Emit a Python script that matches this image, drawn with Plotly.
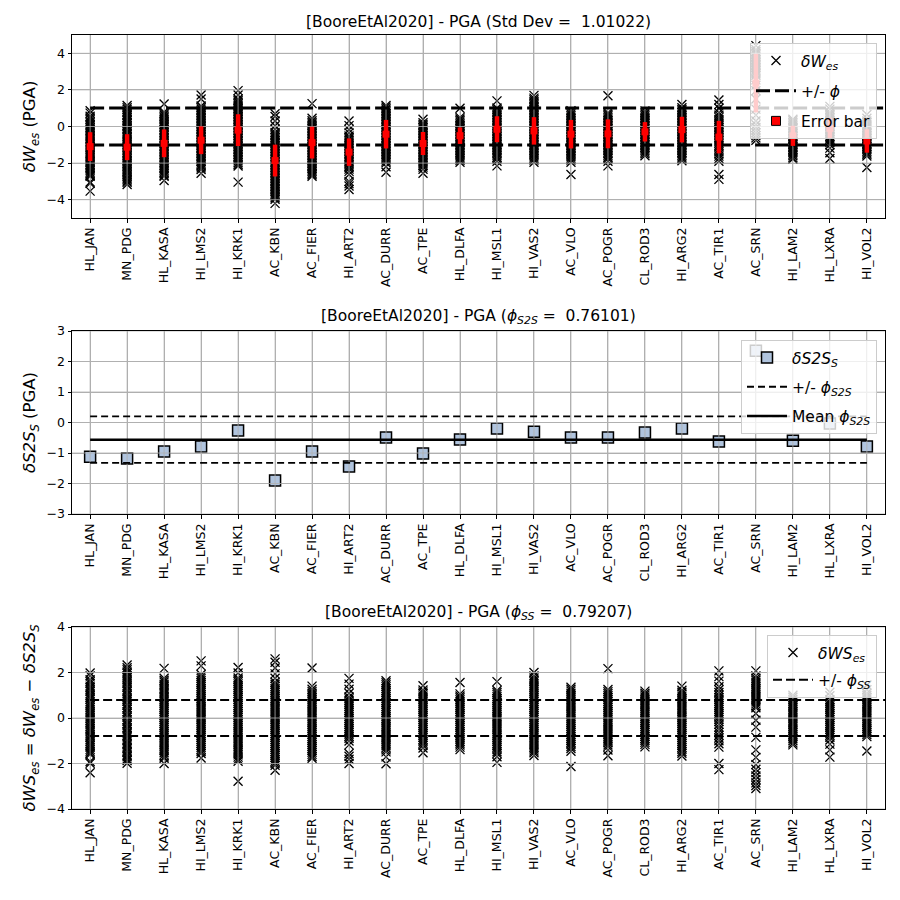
import numpy as np
import plotly.graph_objects as go

# ---------------- data ----------------
STATIONS = ["HL_JAN", "MN_PDG", "HL_KASA", "HI_LMS2", "HI_KRK1", "AC_KBN", "AC_FIER",
            "HI_ART2", "AC_DURR", "AC_TPE", "HL_DLFA", "HI_MSL1", "HI_VAS2", "AC_VLO",
            "AC_POGR", "CL_ROD3", "HI_ARG2", "AC_TIR1", "AC_SRN", "HI_LAM2", "HL_LXRA", "HI_VOL2"]

# within-event residuals dW_es per station (top panel)
DW_HL_JAN = [0.86, 0.73, 0.56, 0.47, 0.39, 0.28, 0.21, 0.11, 0.04, -0.06, -0.14, -0.23, -0.30, -0.41,
             -0.49, -0.57, -0.66, -0.74, -0.83, -0.90, -0.99, -1.08, -1.15, -1.24, -1.33, -1.40, -1.49,
             -1.58, -1.66, -1.73, -1.83, -1.91, -1.98, -2.08, -2.16, -2.25, -2.33, -2.41, -2.50, -2.58,
             -2.66, -2.72, -3.03, -3.11, -3.53]
DW_MN_PDG = [1.15, 1.03, 0.94, 0.84, 0.77, 0.66, 0.59, 0.49, 0.40, 0.33, 0.23, 0.16, 0.05, -0.02, -0.12,
             -0.19, -0.30, -0.38, -0.45, -0.56, -0.62, -0.73, -0.80, -0.90, -0.97, -1.08, -1.14, -1.25,
             -1.32, -1.42, -1.49, -1.60, -1.66, -1.77, -1.84, -1.94, -2.01, -2.12, -2.18, -2.29, -2.36,
             -2.46, -2.53, -2.64, -2.70, -2.81, -2.88, -2.98, -3.05, -3.17]
DW_HL_KASA = [1.23, 0.80, 0.71, 0.63, 0.53, 0.46, 0.36, 0.28, 0.19, 0.11, 0.01, -0.06, -0.16, -0.24,
              -0.33, -0.41, -0.50, -0.59, -0.67, -0.76, -0.85, -0.93, -1.02, -1.10, -1.19, -1.28, -1.36,
              -1.45, -1.53, -1.62, -1.71, -1.79, -1.88, -1.96, -2.05, -2.14, -2.22, -2.31, -2.39, -2.48,
              -2.57, -2.66, -2.72, -2.95]
DW_HI_LMS2 = [1.72, 1.50, 1.12, 1.03, 0.95, 0.86, 0.77, 0.69, 0.60, 0.51, 0.43, 0.34, 0.25, 0.17, 0.08,
              -0.01, -0.09, -0.18, -0.27, -0.35, -0.44, -0.53, -0.61, -0.70, -0.79, -0.87, -0.96, -1.05,
              -1.13, -1.22, -1.31, -1.39, -1.48, -1.57, -1.65, -1.74, -1.83, -1.91, -2.00, -2.09, -2.17,
              -2.26, -2.35, -2.55]
DW_HI_KRK1 = [1.96, 1.72, 1.50, 1.42, 1.33, 1.24, 1.16, 1.07, 0.98, 0.90, 0.81, 0.72, 0.64, 0.55, 0.46,
              0.38, 0.29, 0.20, 0.12, 0.03, -0.06, -0.14, -0.23, -0.32, -0.40, -0.49, -0.58, -0.66, -0.75,
              -0.84, -0.92, -1.01, -1.10, -1.18, -1.27, -1.36, -1.44, -1.53, -1.62, -1.70, -1.79, -1.88,
              -1.98, -2.08, -2.16, -3.04]
DW_AC_KBN = [0.70, 0.55, 0.30, 0.04, -0.15, -0.33, -0.42, -0.51, -0.60, -0.68, -0.77, -0.86, -0.94,
             -1.03, -1.12, -1.20, -1.29, -1.38, -1.46, -1.55, -1.64, -1.72, -1.81, -1.90, -1.98, -2.07,
             -2.16, -2.24, -2.33, -2.42, -2.50, -2.59, -2.68, -2.76, -2.85, -2.94, -3.02, -3.11, -3.20,
             -3.28, -3.37, -3.46, -3.54, -3.63, -3.72, -3.80, -3.89, -3.98, -4.20]
DW_AC_FIER = [1.25, 0.45, 0.31, 0.22, 0.14, 0.05, -0.04, -0.12, -0.21, -0.30, -0.38, -0.47, -0.56, -0.64,
              -0.73, -0.82, -0.90, -0.99, -1.08, -1.16, -1.25, -1.34, -1.42, -1.51, -1.60, -1.68, -1.77,
              -1.86, -1.94, -2.03, -2.12, -2.20, -2.29, -2.38, -2.46, -2.55, -2.64, -2.72]
DW_HI_ART2 = [0.30, 0.05, -0.18, -0.35, -0.52, -0.60, -0.68, -0.77, -0.86, -0.94, -1.03, -1.12, -1.20,
              -1.29, -1.38, -1.46, -1.55, -1.64, -1.72, -1.81, -1.90, -1.98, -2.07, -2.16, -2.24, -2.33,
              -2.45, -2.62, -3.00, -3.12, -3.25, -3.44]
DW_AC_DURR = [1.15, 1.06, 0.97, 0.89, 0.80, 0.71, 0.63, 0.54, 0.45, 0.37, 0.28, 0.19, 0.11, 0.02, -0.07,
              -0.15, -0.24, -0.33, -0.41, -0.50, -0.59, -0.67, -0.76, -0.85, -0.93, -1.02, -1.11, -1.19,
              -1.28, -1.37, -1.45, -1.54, -1.63, -1.71, -1.80, -1.89, -1.98, -2.20, -2.50]
DW_AC_TPE = [0.40, 0.21, 0.12, 0.04, -0.05, -0.14, -0.22, -0.31, -0.40, -0.48, -0.57, -0.66, -0.74,
             -0.83, -0.92, -1.00, -1.09, -1.18, -1.26, -1.35, -1.44, -1.52, -1.61, -1.70, -1.78, -1.87,
             -1.96, -2.04, -2.13, -2.22, -2.34, -2.55]
DW_HL_DLFA = [1.00, 0.50, 0.41, 0.33, 0.24, 0.15, 0.07, -0.02, -0.11, -0.19, -0.28, -0.37, -0.45, -0.54,
              -0.63, -0.71, -0.80, -0.89, -0.97, -1.06, -1.15, -1.23, -1.32, -1.41, -1.49, -1.58, -1.67,
              -1.75, -1.84, -1.95]
DW_HI_MSL1 = [1.40, 1.01, 0.92, 0.84, 0.75, 0.66, 0.58, 0.49, 0.40, 0.32, 0.23, 0.14, 0.06, -0.03, -0.12,
              -0.20, -0.29, -0.38, -0.46, -0.55, -0.64, -0.72, -0.81, -0.90, -0.98, -1.07, -1.16, -1.24,
              -1.33, -1.42, -1.50, -1.59, -1.68, -1.76, -1.90, -2.15]
DW_HI_VAS2 = [1.70, 1.55, 1.46, 1.37, 1.29, 1.20, 1.11, 1.03, 0.94, 0.85, 0.77, 0.68, 0.59, 0.51, 0.42,
              0.33, 0.25, 0.16, 0.07, -0.01, -0.10, -0.19, -0.27, -0.36, -0.45, -0.53, -0.62, -0.71, -0.79,
              -0.88, -0.97, -1.05, -1.14, -1.23, -1.31, -1.40, -1.49, -1.57, -1.66, -1.75, -1.83, -1.95]
DW_AC_VLO = [0.86, 0.77, 0.69, 0.60, 0.51, 0.43, 0.34, 0.25, 0.17, 0.08, -0.01, -0.09, -0.18, -0.27,
             -0.35, -0.44, -0.53, -0.61, -0.70, -0.79, -0.87, -0.96, -1.05, -1.13, -1.22, -1.31, -1.39,
             -1.48, -1.57, -1.65, -1.74, -1.83, -1.95, -2.62]
DW_AC_POGR = [1.68, 0.76, 0.67, 0.59, 0.50, 0.41, 0.33, 0.24, 0.15, 0.07, -0.02, -0.11, -0.19, -0.28,
              -0.37, -0.45, -0.54, -0.63, -0.71, -0.80, -0.89, -0.97, -1.06, -1.15, -1.23, -1.32, -1.41,
              -1.49, -1.58, -1.67, -1.75, -1.90, -2.15]
DW_CL_ROD3 = [0.85, 0.76, 0.68, 0.59, 0.50, 0.42, 0.33, 0.24, 0.16, 0.07, -0.02, -0.10, -0.19, -0.28,
              -0.36, -0.45, -0.54, -0.62, -0.71, -0.80, -0.88, -0.97, -1.06, -1.14, -1.23, -1.32, -1.40,
              -1.49, -1.60]
DW_HI_ARG2 = [1.20, 1.02, 0.93, 0.85, 0.76, 0.67, 0.59, 0.50, 0.41, 0.33, 0.24, 0.15, 0.07, -0.02, -0.11,
              -0.19, -0.28, -0.37, -0.45, -0.54, -0.63, -0.71, -0.80, -0.89, -0.97, -1.06, -1.15, -1.23,
              -1.32, -1.41, -1.49, -1.58, -1.67, -1.75, -1.87]
DW_AC_TIR1 = [1.45, 1.20, 1.00, 0.75, 0.62, 0.50, 0.38, 0.28, 0.19, 0.11, 0.02, -0.07, -0.15, -0.24,
              -0.33, -0.41, -0.50, -0.59, -0.68, -0.78, -0.90, -1.02, -1.12, -1.25, -1.38, -1.50, -1.62,
              -1.75, -1.90, -2.62, -2.89]
DW_AC_SRN = [4.42, 4.20, 4.10, 4.01, 3.92, 3.84, 3.75, 3.66, 3.58, 3.49, 3.40, 3.32, 3.23, 3.14, 3.06,
             2.97, 2.88, 2.80, 2.55, 2.25, 1.95, 1.50, 0.95, 0.62, 0.30, 0.10, -0.05, -0.20, -0.35, -0.50,
             -0.62, -0.75]
DW_HI_LAM2 = [0.40, 0.31, 0.22, 0.14, 0.05, -0.04, -0.12, -0.21, -0.30, -0.38, -0.47, -0.56, -0.64, -0.73,
              -0.82, -0.90, -0.99, -1.08, -1.16, -1.25, -1.34, -1.42, -1.51, -1.60, -1.70, -1.78]
DW_HL_LXRA = [1.10, 0.95, 0.77, 0.68, 0.60, 0.51, 0.42, 0.34, 0.25, 0.16, 0.08, -0.01, -0.10, -0.18,
              -0.27, -0.36, -0.44, -0.53, -0.62, -0.70, -0.79, -0.88, -1.00, -1.18, -1.43, -1.75]
DW_HI_VOL2 = [0.66, 0.45, 0.30, 0.21, 0.12, 0.04, -0.05, -0.14, -0.22, -0.31, -0.40, -0.48, -0.57, -0.66,
              -0.74, -0.83, -0.92, -1.00, -1.09, -1.18, -1.26, -1.35, -1.44, -1.52, -1.61, -2.24]

DW_ALL = [DW_HL_JAN, DW_MN_PDG, DW_HL_KASA, DW_HI_LMS2, DW_HI_KRK1, DW_AC_KBN, DW_AC_FIER, DW_HI_ART2,
          DW_AC_DURR, DW_AC_TPE, DW_HL_DLFA, DW_HI_MSL1, DW_HI_VAS2, DW_AC_VLO, DW_AC_POGR, DW_CL_ROD3,
          DW_HI_ARG2, DW_AC_TIR1, DW_AC_SRN, DW_HI_LAM2, DW_HL_LXRA, DW_HI_VOL2]

# error bar (mean +/- std) per station, top panel
ERR_MEAN = [-1.10, -1.13, -0.92, -0.75, -0.20, -1.86, -0.88, -1.40, -0.42, -0.93, -0.50,
            -0.15, -0.24, -0.42, -0.40, -0.29, -0.17, -0.58, 2.37, -0.51, -0.10, -0.79]
ERR_STD = [0.79, 0.71, 0.76, 0.76, 0.87, 0.87, 0.87, 0.75, 0.78, 0.63, 0.45,
           0.71, 0.75, 0.78, 0.79, 0.53, 0.70, 0.89, 1.60, 0.55, 0.58, 0.64]

# site terms dS2S_s (middle panel)
S2S = [-1.12, -1.18, -0.95, -0.79, -0.26, -1.90, -0.95, -1.44, -0.49, -1.02, -0.56,
       -0.20, -0.30, -0.49, -0.49, -0.33, -0.20, -0.62, 2.35, -0.60, -0.03, -0.79]

PHI = 1.01022
PHI_S2S = 0.76101
PHI_SS = 0.79207

Y_TICKS_TOP = [-4, -2, 0, 2, 4]
Y_TICKS_MID = [-3, -2, -1, 0, 1, 2, 3]
Y_TICKS_BOT = [-4, -2, 0, 2, 4]
Y_RANGE_TOP = [-5, 5]
Y_RANGE_MID = [-3, 3]
Y_RANGE_BOT = [-4, 4]

# ---------------- figure ----------------
FONT = "DejaVu Sans"
N = len(STATIONS)
idx = list(range(N))
X_RANGE = [-0.49, N - 0.51]

xs, ys_top, ys_bot = [], [], []
for i, vals in enumerate(DW_ALL):
    for v in vals:
        xs.append(i)
        ys_top.append(v)
        ys_bot.append(v - S2S[i])

mean_s2s = float(np.mean(S2S))

fig = go.Figure()


def grid_traces(xa, ya, yrange, yticks):
    gx, gy = [], []
    for i in idx:
        gx += [i, i, None]
        gy += [yrange[0], yrange[1], None]
    for t in yticks:
        gx += [X_RANGE[0], X_RANGE[1], None]
        gy += [t, t, None]
    fig.add_trace(go.Scatter(x=gx, y=gy, mode="lines", xaxis=xa, yaxis=ya,
                             line=dict(color="#b0b0b0", width=0.8),
                             showlegend=False, hoverinfo="skip"))


XMARK = dict(symbol="x-thin-open", size=9, color="black", line=dict(color="black", width=1.3))

# ---- top panel
fig.add_trace(go.Scatter(x=xs, y=ys_top, mode="markers", marker=XMARK,
                         name="<i>δW</i><sub><i>es</i></sub>", legend="legend",
                         legendgroup="a1", xaxis="x", yaxis="y"))
grid_traces("x", "y", Y_RANGE_TOP, Y_TICKS_TOP)
fig.add_trace(go.Scatter(x=[0, N, None, 0, N], y=[PHI, PHI, None, -PHI, -PHI], mode="lines",
                         line=dict(color="black", width=3, dash="14px,5px"),
                         name="+/- <i>ϕ</i>", legend="legend", legendgroup="a2",
                         xaxis="x", yaxis="y"))
fig.add_trace(go.Scatter(x=idx, y=ERR_MEAN, mode="markers",
                         marker=dict(symbol="square", size=7, color="red", line=dict(width=0)),
                         error_y=dict(type="data", array=ERR_STD, visible=True, thickness=4.5,
                                      width=0, color="red"),
                         showlegend=False, xaxis="x", yaxis="y"))
# legend entry for the error bars (no data drawn)
fig.add_trace(go.Scatter(x=[None], y=[None], mode="markers",
                         marker=dict(symbol="square", size=9, color="red",
                                     line=dict(color="black", width=1)),
                         name="Error bar", legend="legend", legendgroup="a3",
                         xaxis="x", yaxis="y"))

# ---- middle panel
fig.add_trace(go.Scatter(x=idx, y=S2S, mode="markers",
                         marker=dict(symbol="square", size=11, color="#b0c4de",
                                     line=dict(color="black", width=1.5)),
                         name="<i>δS2S</i><sub><i>S</i></sub>", legend="legend2",
                         legendgroup="b1", xaxis="x2", yaxis="y2"))
grid_traces("x2", "y2", Y_RANGE_MID, Y_TICKS_MID)
fig.add_trace(go.Scatter(x=[0, N - 1, None, 0, N - 1],
                         y=[mean_s2s + PHI_S2S, mean_s2s + PHI_S2S, None,
                            mean_s2s - PHI_S2S, mean_s2s - PHI_S2S],
                         mode="lines", line=dict(color="black", width=1.8, dash="7px,4px"),
                         name="+/- <i>ϕ</i><sub><i>S2S</i></sub>", legend="legend2",
                         legendgroup="b2", xaxis="x2", yaxis="y2"))
fig.add_trace(go.Scatter(x=[0, N - 1], y=[mean_s2s, mean_s2s], mode="lines",
                         line=dict(color="black", width=2.5),
                         name="Mean <i>ϕ</i><sub><i>S2S</i></sub>", legend="legend2",
                         legendgroup="b3", xaxis="x2", yaxis="y2"))

# ---- bottom panel
fig.add_trace(go.Scatter(x=xs, y=ys_bot, mode="markers", marker=XMARK,
                         name="<i>δWS</i><sub><i>es</i></sub>", legend="legend3",
                         legendgroup="c1", xaxis="x3", yaxis="y3"))
grid_traces("x3", "y3", Y_RANGE_BOT, Y_TICKS_BOT)
fig.add_trace(go.Scatter(x=[0, N, None, 0, N], y=[PHI_SS, PHI_SS, None, -PHI_SS, -PHI_SS],
                         mode="lines", line=dict(color="black", width=2, dash="9px,4px"),
                         name="+/- <i>ϕ</i><sub><i>SS</i></sub>", legend="legend3",
                         legendgroup="c2", xaxis="x3", yaxis="y3"))

# ---------------- layout ----------------
W = H = 900
XD = [72 / W, 885 / W]
DOMS = {1: [1 - 218 / H, 1 - 35 / H], 2: [1 - 514 / H, 1 - 331 / H], 3: [1 - 809 / H, 1 - 627 / H]}

TICKF = dict(family=FONT, size=12.5, color="black")


def xax(anchor):
    return dict(domain=XD, anchor=anchor, range=X_RANGE, tickmode="array", tickvals=idx,
                ticktext=STATIONS, tickangle=-90, tickfont=TICKF, showgrid=True,
                gridcolor="#b0b0b0", gridwidth=0.8, showline=True, linecolor="black",
                linewidth=1, mirror=True, ticks="outside", ticklen=3.5, tickwidth=0.8,
                tickcolor="black", zeroline=False)


def yax(anchor, dom, rng, ticks, title):
    return dict(domain=dom, anchor=anchor, range=rng, tickmode="array", tickvals=ticks,
                tickfont=TICKF, showgrid=True, gridcolor="#b0b0b0", gridwidth=0.8,
                showline=True, linecolor="black", linewidth=1, mirror=True, ticks="outside",
                ticklen=3.5, tickwidth=0.8, tickcolor="black", zeroline=False,
                title=dict(text=title, font=dict(family=FONT, size=16.5, color="black"),
                           standoff=6))


def legend(top_px, gap):
    return dict(x=877 / W, y=1 - top_px / H, xanchor="right", yanchor="top",
                bgcolor="rgba(255,255,255,0.8)", bordercolor="#cccccc", borderwidth=1,
                font=dict(family=FONT, size=15.5, color="black"), tracegroupgap=gap,
                itemwidth=40)


fig.update_layout(
    width=W, height=H, margin=dict(l=0, r=0, t=0, b=0),
    paper_bgcolor="white", plot_bgcolor="white", template="none",
    font=dict(family=FONT, color="black"),
    xaxis=xax("y"), xaxis2=xax("y2"), xaxis3=xax("y3"),
    yaxis=yax("x", DOMS[1], Y_RANGE_TOP, Y_TICKS_TOP, "<i>δW</i><sub><i>es</i></sub> (PGA)"),
    yaxis2=yax("x2", DOMS[2], Y_RANGE_MID, Y_TICKS_MID, "<i>δS2S</i><sub><i>S</i></sub> (PGA)"),
    yaxis3=yax("x3", DOMS[3], Y_RANGE_BOT, Y_TICKS_BOT,
               "<i>δWS</i><sub><i>es</i></sub> = <i>δW</i><sub><i>es</i></sub> − <i>δS2S</i><sub><i>S</i></sub>"),
    legend=legend(43, 7), legend2=legend(340, 6), legend3=legend(635, 4),
    showlegend=True,
)

TITLES = [
    "[BooreEtAl2020] - PGA (Std Dev =\u00a0\u00a01.01022)",
    "[BooreEtAl2020] - PGA (<i>ϕ</i><sub><i>S2S</i></sub> =\u00a0\u00a00.76101)",
    "[BooreEtAl2020] - PGA (<i>ϕ</i><sub><i>SS</i></sub> =\u00a0\u00a00.79207)",
]
for k, t in enumerate(TITLES, start=1):
    fig.add_annotation(text=t, xref="paper", yref="paper", x=(XD[0] + XD[1]) / 2, y=DOMS[k][1],
                       xanchor="center", yanchor="bottom", yshift=2, showarrow=False,
                       font=dict(family=FONT, size=15.5, color="black"))

fig.write_html("out.html")
